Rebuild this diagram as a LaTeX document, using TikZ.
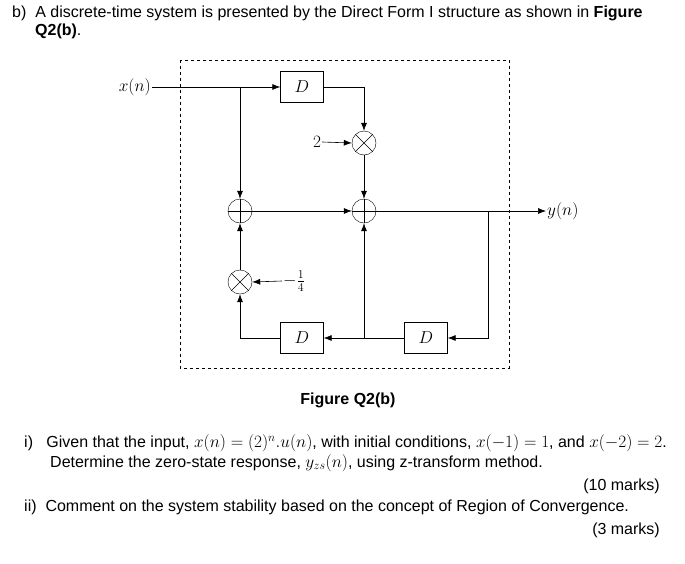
\documentclass[tikz,border=0pt]{standalone}
\usepackage{fontspec}
\setmainfont{Liberation Sans}
\DeclareMathSizes{16}{17.28}{12}{10}
\usetikzlibrary{arrows.meta}
\begin{document}
\begin{tikzpicture}[x=1pt,y=-1pt,
  txt/.style={anchor=west,inner sep=0pt,font=\fontsize{16}{19}\selectfont},
  rtxt/.style={anchor=east,inner sep=0pt,font=\fontsize{16}{19}\selectfont},
  dbox/.style={draw,minimum width=43pt,minimum height=31pt,inner sep=0pt,font=\fontsize{16}{19}\selectfont},
  op/.style={draw,circle,minimum size=24pt,inner sep=0pt},
  lab/.style={inner sep=1pt,font=\fontsize{16}{19}\selectfont},
  arr/.style={-{Latex[length=8pt,width=6pt]}},
  wire/.style={line width=0.6pt}]
\useasboundingbox (0,0) rectangle (685,563);
\node[txt] (l1) at (12,13) {b)\ \ A discrete-time system is presented by the Direct Form I structure as shown in \textbf{Figure}};
\node[txt] (l2) at (35,31) {\textbf{Q2(b)}.};
\draw[dashed,line width=0.7pt] (180,60) rectangle (509,368);
\node[lab,anchor=east] (xn) at (152,87) {$x(n)$};
\node[dbox] (d1) at (302,87) {$D$};
\node[dbox] (d2) at (302,338) {$D$};
\node[dbox] (d3) at (426,338) {$D$};
\node[op] (m1) at (364,143) {};
\node[op] (m2) at (240,282) {};
\node[op] (a1) at (240,211) {};
\node[op] (a2) at (364,211) {};
\foreach \m in {m1,m2}{\draw[wire] (\m.north west)--(\m.south east) (\m.north east)--(\m.south west);}
\foreach \a in {a1,a2}{\draw[wire] (\a.north)--(\a.south) (\a.west)--(\a.east);}
\node[lab] (two) at (317,142) {$2$};
\node[lab,anchor=west] (q) at (282,281) {$-\frac{1}{4}$};
\node[lab,anchor=west] (yn) at (546,211) {$y(n)$};
\coordinate (j1) at (240,87);
\coordinate (j2) at (488,211);
\coordinate (j3) at (364,338);
\draw[wire,arr] (xn.east) -- (d1.west);
\draw[wire,arr] (j1) -- (a1.north);
\draw[wire,arr] (d1.east) -| (m1.north);
\draw[wire,arr] (two.east) -- (m1.west);
\draw[wire,arr] (m1.south) -- (a2.north);
\draw[wire,arr] (a1.east) -- (a2.west);
\draw[wire,arr] (a2.east) -- (yn.west);
\draw[wire,arr] (j2) |- (d3.east);
\draw[wire,arr] (d3.west) -- (d2.east);
\draw[wire,arr] (j3) -- (a2.south);
\draw[wire,arr] (d2.west) -| (m2.south);
\draw[wire,arr] (q.west) -- (m2.east);
\draw[wire,arr] (m2.north) -- (a1.south);
\node[lab,font=\fontsize{16}{19}\selectfont\bfseries] (cap) at (348,400) {Figure Q2(b)};
\node[txt] (i1) at (24,443) {i)\ \ \ Given that the input, $x(n)=(2)^n.u(n)$, with initial conditions, $x(-1)=1$, and $x(-2)=2$.};
\node[txt] (i2) at (50,463) {Determine the zero-state response, $y_{zs}(n)$, using z-transform method.};
\node[rtxt] (m10) at (660,486) {(10 marks)};
\node[txt] (ii) at (24,507) {ii)\ \ Comment on the system stability based on the concept of Region of Convergence.};
\node[rtxt] (m3) at (660,530) {(3 marks)};
\end{tikzpicture}
\end{document}
